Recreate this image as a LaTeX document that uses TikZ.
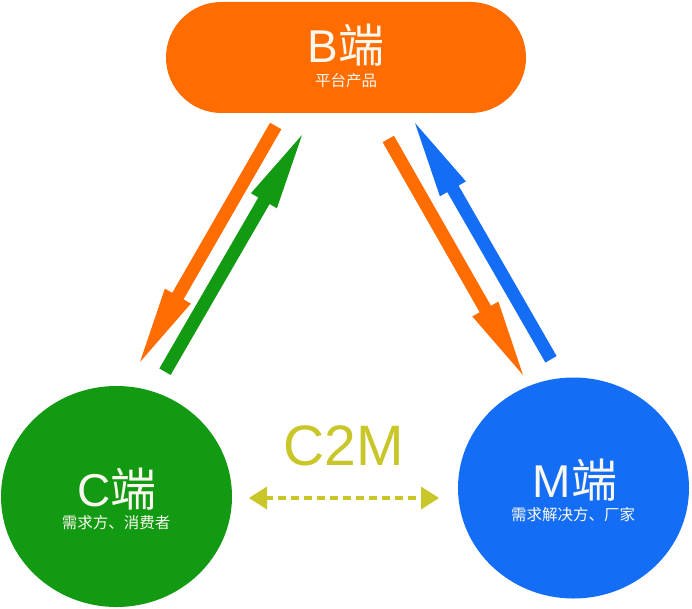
\documentclass[tikz,border=0pt]{standalone}
\usepackage{fontspec}
\setmainfont{Noto Sans CJK SC}
\newfontfamily\latfont{Liberation Sans}
\usetikzlibrary{calc,shapes.misc,shapes.geometric}
\definecolor{borange}{RGB}{255,108,0}
\definecolor{cgreen}{RGB}{18,154,18}
\definecolor{mblue}{RGB}{20,110,245}
\definecolor{cmyellow}{RGB}{200,198,40}
\definecolor{lighttext}{RGB}{250,248,238}
\newcommand\flatarrow[3]{%
  \coordinate (#1base) at ($(#2)!76pt!(#1)$);
  \fill[#3] ($(#1)!6.5pt!90:(#2)$) -- ($(#1base)!6.5pt!90:(#2)$) -- ($(#1base)!15pt!90:(#2)$)
    -- (#2) -- ($(#1base)!15pt!-90:(#2)$) -- ($(#1base)!6.5pt!-90:(#2)$) -- ($(#1)!6.5pt!-90:(#2)$) -- cycle;}
\begin{document}
\begin{tikzpicture}[x=1pt,y=-1pt,
  pill/.style={rounded rectangle, fill=borange, minimum width=360pt, minimum height=111pt, inner sep=0pt},
  disc/.style={ellipse, minimum width=231pt, minimum height=221pt, inner sep=0pt},
  bigtext/.style={text=lighttext, anchor=base, inner sep=0pt, font=\fontsize{46}{50}\selectfont},
  subtext/.style={text=lighttext, anchor=base, inner sep=0pt, font=\fontsize{15.5}{18}\selectfont}]
\useasboundingbox (0,0) rectangle (692,609);
\fill[white] (0,0) rectangle (692,609);
% main nodes
\node[pill] (B) at (346,57.5) {};
\node[disc, fill=cgreen] (C) at (116.5,496.5) {};
\node[disc, fill=mblue] (M) at (573.5,488) {};
% labels
\node[bigtext] (Bt) at (346,63) {{\latfont B}端};
\node[subtext] (Bs) at (346,87) {平台产品};
\node[bigtext] (Ct) at (117,506) {{\latfont C}端};
\node[subtext] (Cs) at (116,528) {需求方、消费者};
\node[bigtext] (Mt) at (575,497) {{\latfont M}端};
\node[subtext] (Ms) at (573,520) {需求解决方、厂家};
\node[text=cmyellow, anchor=base, inner sep=0pt, font=\latfont\fontsize{57}{60}\selectfont] (C2M) at (344,465) {C2M};
% arrow end points
\coordinate (a1) at (275.7,126);
\coordinate (a1t) at (140,362);
\coordinate (a2) at (165,371.7);
\coordinate (a2t) at (302,135);
\coordinate (a3) at (388.3,139);
\coordinate (a3t) at (523,375);
\coordinate (a4) at (551,359.3);
\coordinate (a4t) at (415,123);
\flatarrow{a1}{a1t}{borange}
\flatarrow{a2}{a2t}{cgreen}
\flatarrow{a3}{a3t}{borange}
\flatarrow{a4}{a4t}{mblue}
% C2M dashed double arrow
\coordinate (dl) at (249,498);
\coordinate (dr) at (439,498);
\draw[cmyellow, line width=4pt, dash pattern=on 8pt off 5pt] ($(dl)+(16,0)$) -- ($(dr)-(16,0)$);
\fill[cmyellow] (dl) -- ($(dl)+(18,-11.5)$) -- ($(dl)+(18,11.5)$) -- cycle;
\fill[cmyellow] (dr) -- ($(dr)+(-18,-11.5)$) -- ($(dr)+(-18,11.5)$) -- cycle;
\end{tikzpicture}
\end{document}
